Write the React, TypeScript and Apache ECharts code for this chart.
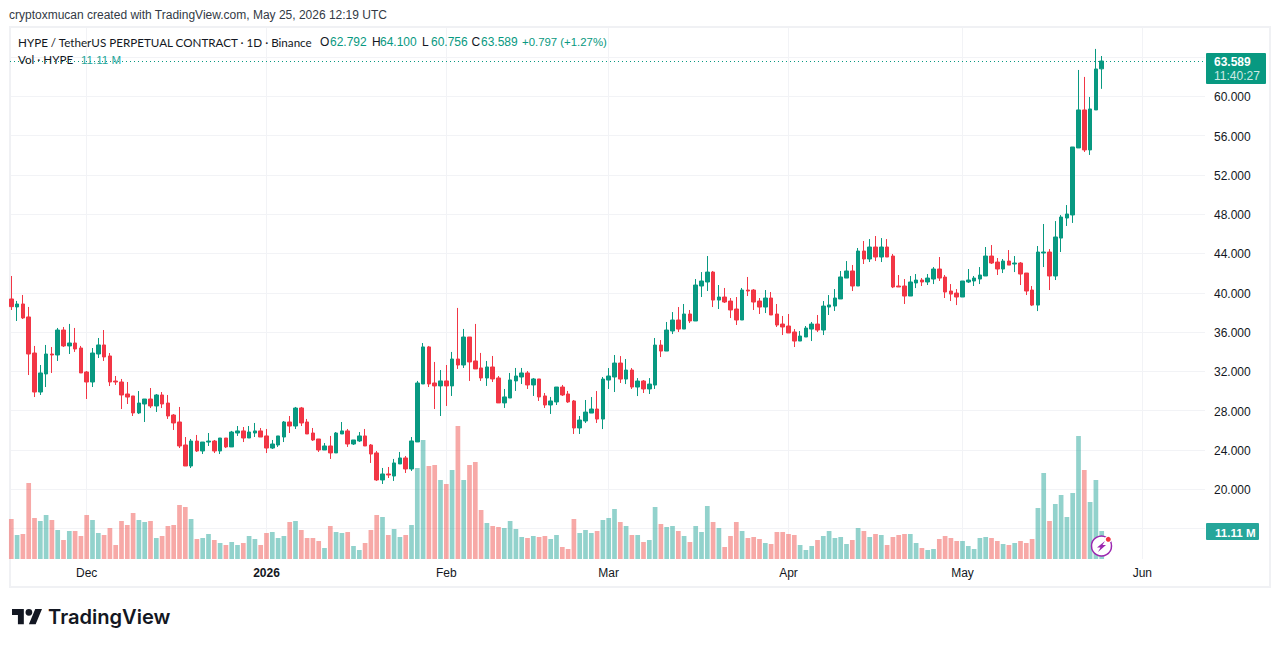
import React, { useEffect, useRef } from "react";
import * as echarts from "echarts";

const opens = [39.37,38.56,38.86,37.54,33.87,29.90,31.74,33.77,33.67,36.21,
34.59,34.89,34.38,31.94,30.92,33.77,34.69,33.57,31.02,30.92,
29.70,29.50,27.77,28.68,29.19,28.48,29.60,28.78,27.56,26.85,
24.51,22.37,24.91,23.90,24.81,24.91,23.90,25.22,24.31,25.73,
25.94,25.22,25.73,25.94,25.43,24.20,24.51,25.32,26.85,26.44,
28.28,26.85,25.73,25.12,24.00,24.41,23.70,25.63,25.94,24.61,
24.92,25.43,24.51,23.70,20.95,21.56,21.35,22.58,23.19,22.07,
24.82,30.72,34.49,30.82,30.52,31.03,30.52,33.26,32.65,35.50,
33.06,32.35,31.33,32.45,31.33,28.79,29.29,31.03,31.43,31.84,
30.62,31.23,29.50,28.58,28.89,30.41,29.70,28.99,26.24,26.95,
27.76,28.17,27.15,31.12,31.43,32.85,31.22,32.14,30.41,31.02,
30.21,30.61,34.68,34.07,36.11,37.23,36.31,37.84,37.13,40.69,
41.10,42.11,39.26,39.57,39.16,38.35,37.23,40.28,40.28,39.16,
38.55,39.47,37.84,36.82,36.62,36.01,35.09,35.50,36.31,36.82,
36.21,38.55,38.65,39.37,41.50,42.22,40.69,44.25,43.44,44.66,
43.64,44.66,43.74,40.69,40.69,39.67,41.00,41.30,41.10,41.40,
42.42,41.60,40.18,39.97,39.57,41.10,41.20,41.40,41.71,43.74,
43.13,42.42,43.23,42.93,43.03,42.01,40.28,38.75,44.05,44.15,
41.71,45.57,47.61,47.92,54.74,58.61,54.54,58.61,62.792];

const closes = [38.59,38.86,37.44,33.77,29.90,31.84,33.77,33.67,36.21,34.59,
34.89,34.28,31.84,30.92,33.87,34.69,33.47,30.92,30.92,29.60,
29.39,27.77,28.78,29.19,28.48,29.60,28.68,27.46,26.75,24.41,
22.37,24.91,23.90,24.81,24.91,23.90,25.22,24.31,25.83,25.94,
25.22,25.83,25.94,25.32,24.20,24.61,25.43,26.85,26.44,28.27,
26.75,25.63,25.02,24.00,24.41,23.70,25.73,25.94,24.61,25.02,
25.43,24.41,23.59,20.95,21.56,21.46,22.68,23.19,22.07,24.92,
30.82,34.49,30.72,30.52,31.03,30.52,33.26,32.65,35.50,32.96,
32.25,31.33,32.45,31.23,28.79,29.40,31.13,31.53,31.84,30.62,
31.23,29.40,28.58,28.99,30.41,29.60,28.89,26.24,27.05,27.86,
28.17,27.15,31.22,31.53,32.85,31.22,32.14,30.41,31.02,30.21,
30.71,34.68,34.07,36.21,37.23,36.31,37.84,37.13,40.79,41.20,
42.11,39.26,39.57,39.06,38.25,37.23,40.28,40.18,39.06,38.55,
39.47,37.74,36.72,36.52,35.91,35.09,35.60,36.41,36.82,36.21,
38.65,38.76,39.47,41.61,42.22,40.69,44.25,43.44,44.66,43.64,
44.66,43.64,40.59,40.59,39.67,41.10,41.30,41.10,41.50,42.42,
41.50,40.08,39.87,39.57,41.20,41.30,41.50,41.81,43.74,43.03,
42.42,43.23,42.82,43.03,41.91,40.18,38.75,44.15,44.15,41.71,
45.68,47.71,48.02,54.84,58.61,54.54,58.71,62.78,63.589];

const lows = [38.25,37.13,37.33,31.63,29.39,29.60,30.41,31.84,33.06,34.48,
33.77,33.98,31.84,29.19,30.41,33.36,33.06,30.51,30.62,28.17,
28.68,27.46,27.66,26.85,28.27,27.87,28.27,27.16,26.04,24.20,
22.37,22.17,23.80,23.59,24.41,23.69,23.59,24.20,24.31,25.43,
24.81,25.22,25.32,25.32,23.69,24.10,24.31,24.81,25.73,26.14,
26.44,25.63,24.92,23.80,24.00,23.09,23.70,25.63,24.31,24.51,
24.82,24.41,22.68,20.85,20.54,21.15,20.85,22.58,21.66,21.86,
24.82,30.72,30.41,28.17,27.46,28.48,29.50,32.25,32.35,31.03,
32.25,31.03,30.52,30.92,28.79,28.28,29.29,30.01,30.72,30.21,
29.50,28.99,28.28,27.67,28.58,29.50,28.79,25.63,25.63,26.75,
27.76,26.75,26.13,30.21,29.90,30.82,30.71,30.21,29.49,29.80,
29.70,30.21,33.46,34.07,35.80,36.01,36.31,36.92,37.13,39.57,
40.18,38.55,38.35,38.96,37.43,36.72,37.23,39.67,38.25,37.84,
37.94,37.74,36.52,35.70,35.91,34.48,35.09,35.50,35.09,36.01,
35.70,37.74,38.15,39.37,41.50,40.18,40.69,42.93,43.13,43.23,
43.13,43.64,40.48,40.59,38.86,39.67,40.48,40.69,40.79,40.89,
41.20,39.47,39.16,38.75,39.57,41.00,40.69,40.89,41.71,42.93,
41.81,42.01,42.82,42.11,40.79,39.77,38.65,38.14,42.62,40.28,
41.30,44.15,46.80,47.11,54.74,54.33,54.03,58.61,60.756];

const highs = [41.71,39.17,39.78,38.56,34.59,32.65,34.69,34.48,36.42,36.52,
36.83,36.42,34.59,32.04,34.38,35.40,36.21,33.87,31.53,31.23,
30.92,29.50,30.00,29.19,30.31,29.70,29.90,29.60,27.66,28.38,
25.32,25.12,25.53,24.81,25.73,25.02,25.22,25.22,25.94,26.44,
26.34,26.44,26.75,26.24,26.14,25.02,25.43,26.95,27.46,28.38,
28.38,27.16,26.24,25.12,24.71,25.43,25.83,26.85,26.14,25.02,
25.83,26.14,24.61,23.90,22.17,22.27,23.09,23.80,23.39,25.32,
31.03,34.89,34.59,32.96,32.14,32.65,33.98,38.46,36.32,35.50,
36.83,33.88,33.06,33.57,31.53,30.21,31.84,32.35,32.35,32.04,
31.33,31.23,29.80,29.40,30.41,30.62,30.01,29.09,27.46,29.09,
29.39,30.00,31.43,32.34,33.67,33.56,33.26,32.34,31.32,31.12,
31.32,35.40,35.19,37.03,38.04,38.55,38.86,38.25,41.40,42.11,
43.74,42.22,40.79,40.49,39.47,39.57,40.49,41.61,40.38,39.47,
40.28,40.08,38.86,37.64,37.84,36.31,36.11,36.62,37.03,37.74,
39.16,39.77,40.38,42.22,43.23,42.83,44.56,45.27,45.47,45.78,
45.57,45.47,43.95,41.81,41.40,41.71,41.91,41.50,41.91,42.62,
43.64,41.81,40.89,40.38,41.20,42.42,41.71,42.62,44.66,44.86,
43.54,43.44,44.35,43.74,43.13,42.01,40.69,44.76,47.00,44.45,
47.30,47.91,48.93,54.84,62.68,61.97,59.93,64.82,64.100];

const volumes = [15.87,9.52,9.92,30.16,16.27,15.08,17.46,15.48,11.51,7.54,
11.11,11.11,9.13,17.46,15.48,10.32,9.52,12.30,5.56,15.08,
13.49,18.25,15.48,14.68,15.08,8.33,9.13,13.10,13.49,21.43,
20.63,15.87,7.94,8.33,9.92,7.54,6.35,5.56,6.75,5.56,
6.35,9.13,7.94,5.56,10.32,10.71,8.33,9.13,14.68,15.08,
11.51,8.33,8.33,7.14,4.37,13.10,10.71,10.32,10.71,5.16,
3.57,6.35,11.51,17.46,16.67,9.52,11.90,8.73,9.52,13.49,
36.11,47.22,36.90,37.30,31.35,29.76,35.32,52.78,31.35,37.30,
38.49,19.44,14.29,13.10,12.70,12.30,15.08,11.90,8.73,8.33,
9.13,8.73,9.13,7.94,9.52,4.76,3.97,15.87,10.32,11.51,
10.32,11.11,15.48,16.27,19.84,14.68,13.10,9.52,9.52,6.75,
7.54,20.63,13.89,12.70,13.10,11.11,9.13,6.75,13.10,10.71,
21.03,14.68,12.30,4.76,9.13,14.68,11.11,8.33,8.73,7.94,
6.35,5.95,10.71,10.71,9.92,9.52,5.56,3.57,5.16,7.54,
9.13,11.11,8.33,8.73,5.95,7.54,12.30,11.11,8.73,9.92,
9.52,5.56,8.73,9.52,9.92,9.92,6.35,4.37,3.57,3.97,
7.94,9.13,8.33,7.14,7.14,5.16,3.97,8.33,8.73,8.33,
7.14,5.95,5.56,6.35,7.14,6.35,7.94,20.24,34.13,15.08,
21.83,25.40,16.67,26.19,48.81,35.32,22.62,31.35,11.11];

const monthTicks = [13, 44, 75, 103, 134, 164, 195];
const monthLabels = ["Dec", "2026", "Feb", "Mar", "Apr", "May", "Jun"];
const priceGrid = [16, 20, 24, 28, 32, 36, 40, 44, 48, 52, 56, 60, 64];
const priceLabels = [20, 24, 28, 32, 36, 40, 44, 48, 52, 56, 60];
const lastPrice = 63.589;

const FONT = '"Liberation Sans", sans-serif';
const LATO = '"Lato", sans-serif';
const GREEN = "#089981";
const RED = "#F23645";
const TEXT = "#131722";
const GRIDC = "#F2F3F6";

echarts.graphic.registerShape(
  "tvlogo",
  echarts.graphic.extendPath(
    "M14 22H7V11H0V4h14v18zM28 22h-8l7.5-18h8L28 22zM24 8a4 4 0 1 1-8 0a4 4 0 1 1 8 0z",
    {}
  )
);

const txt = (x: number, y: number, text: string, fill: string, size = 12, weight = "normal", family = FONT) => ({
  type: "text",
  x,
  y,
  z: 20,
  style: { text, fill, font: `${weight} ${size}px ${family}`, verticalAlign: "middle", align: "left" },
});

export default function App() {
  const ref = useRef<HTMLDivElement>(null);
  useEffect(() => {
    document.body.style.margin = "0";
    const chart = echarts.init(ref.current!, null, { renderer: "svg" });
    const candleData = opens.map((o, i) => [i, o, closes[i], lows[i], highs[i]]);
    const volData = volumes.map((v, i) => ({
      value: [i, v],
      itemStyle: { color: closes[i] >= opens[i] ? "rgba(38,166,154,0.5)" : "rgba(239,83,80,0.5)" },
    }));
    chart.setOption({
      animation: false,
      backgroundColor: "#ffffff",
      grid: { left: 10, right: 76, top: 28, bottom: 88 },
      xAxis: {
        type: "value",
        min: -0.224,
        max: 205.81,
        axisLine: { show: false },
        axisTick: { show: false, customValues: monthTicks },
        splitLine: { show: true, lineStyle: { color: GRIDC, width: 1 } },
        axisLabel: {
          customValues: monthTicks,
          margin: 8,
          fontFamily: FONT,
          fontSize: 12,
          color: TEXT,
          formatter: (v: number) => {
            const s = monthLabels[monthTicks.indexOf(v)];
            return s === "2026" ? `{b|${s}}` : s;
          },
          rich: { b: { fontFamily: FONT, fontSize: 12, fontWeight: "bold", color: TEXT } },
        },
      },
      yAxis: [
        {
          type: "value",
          position: "right",
          min: 12.906,
          max: 66.95,
          scale: true,
          axisLine: { show: false },
          axisTick: { show: false, customValues: priceGrid },
          splitLine: { show: true, lineStyle: { color: GRIDC, width: 1 } },
          axisLabel: {
            customValues: priceLabels,
            margin: 9,
            fontFamily: FONT,
            fontSize: 12,
            color: TEXT,
            formatter: (v: number) => `{p|${v.toFixed(3)}}`,
            rich: { p: { fontFamily: FONT, fontSize: 12, color: TEXT, padding: [2, 0, 0, 0] } },
          },
        },
        { type: "value", min: 0, max: 210.7, show: false, splitLine: { show: false } },
      ],
      series: [
        {
          type: "bar",
          yAxisIndex: 1,
          barWidth: 4.7,
          data: volData,
          z: 1,
          clip: true,
        },
        {
          type: "candlestick",
          yAxisIndex: 0,
          barWidth: 4,
          data: candleData,
          z: 2,
          clip: true,
          itemStyle: {
            color: GREEN,
            color0: RED,
            borderColor: GREEN,
            borderColor0: RED,
            borderWidth: 1,
          },
          markLine: {
            silent: true,
            symbol: "none",
            label: { show: false },
            lineStyle: { color: GREEN, type: [1, 3], width: 1 },
            data: [{ yAxis: lastPrice }],
          },
        },
      ],
      graphic: [
        { type: "rect", z: 1, shape: { x: 10, y: 27, width: 1260, height: 560 }, style: { fill: "none", stroke: "#F0F1F4", lineWidth: 2 } },
        txt(9, 15, "cryptoxmucan created with TradingView.com, May 25, 2026 12:19 UTC", "#333a45"),
        txt(18, 42, "HYPE / TetherUS PERPETUAL CONTRACT · 1D · Binance", TEXT, 11.65, "normal", LATO),
        txt(320, 42, "O", TEXT),
        txt(330, 42, "62.792", GREEN),
        txt(372, 42, "H", TEXT),
        txt(380, 42, "64.100", GREEN),
        txt(422, 42, "L", TEXT),
        txt(431, 42, "60.756", GREEN),
        txt(471.5, 42, "C", TEXT),
        txt(481, 42, "63.589", GREEN),
        txt(522, 42, "+0.797 (+1.27%)", GREEN, 11.4),
        txt(18, 59, "Vol · HYPE", TEXT, 11.65, "normal", LATO),
        txt(81, 59, "11.11 M", "#26a69a", 11.6),
        { type: "rect", z: 15, shape: { x: 1206, y: 53, width: 60, height: 31, r: 1 }, style: { fill: GREEN } },
        txt(1214, 61.5, "63.589", "#ffffff", 12, "bold"),
        txt(1214, 76, "11:40:27", "#CFEAE5", 12),
        { type: "rect", z: 15, shape: { x: 1206, y: 523, width: 53, height: 17, r: 1 }, style: { fill: "#26A69A" } },
        txt(1215, 532, "11.11 M", "#ffffff", 11.6, "bold"),
        { type: "circle", z: 18, shape: { cx: 1101.5, cy: 546, r: 10 }, style: { fill: "#ffffff", stroke: "#9C27B0", lineWidth: 1.5 } },
        { type: "circle", z: 19, shape: { cx: 1108.3, cy: 539.3, r: 3.6 }, style: { fill: "#ffffff" } },
        { type: "circle", z: 20, shape: { cx: 1108.3, cy: 539.3, r: 2.5 }, style: { fill: RED } },
        { type: "polygon", z: 20, shape: { points: [[1105, 541], [1097, 547.5], [1100.5, 547.5], [1098, 552], [1106, 545], [1102.5, 545]] }, style: { fill: "#9C27B0" } },
        { type: "tvlogo", z: 20, x: 12, y: 605.6, scaleX: 0.845, scaleY: 0.845, style: { fill: "#131722" } },
        txt(48, 617, "TradingView", "#131722", 20.1, "600", '"Inter", sans-serif'),
      ],
    });
    return () => chart.dispose();
  }, []);
  return <div ref={ref} style={{ position: "absolute", left: 0, top: 0, width: 1281, height: 647 }} />;
}
